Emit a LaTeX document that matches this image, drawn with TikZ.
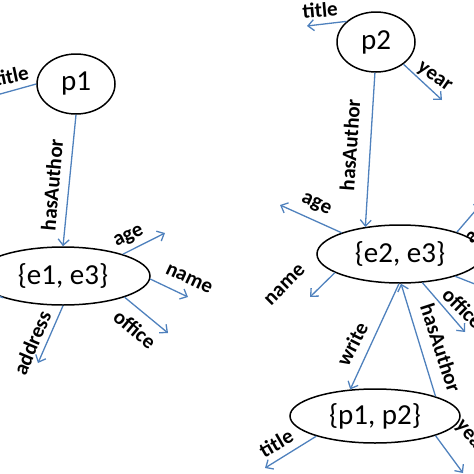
\documentclass[tikz,border=0pt]{standalone}
\usepackage{fontspec}
\setmainfont{Carlito}
\usetikzlibrary{arrows.meta,shapes.geometric}
\definecolor{arrowblue}{RGB}{79,129,189}
\begin{document}
\begin{tikzpicture}[x=1pt,y=-1pt,
  ell/.style={draw=black, line width=1.5pt, ellipse, inner sep=0pt, font=\fontsize{29}{31}\selectfont},
  rel/.style={draw=arrowblue, line width=1.3pt, -{Straight Barb[length=6pt,width=11pt,line width=1.3pt]}},
  lab/.style={font=\bfseries\fontsize{21}{23}\selectfont, inner sep=0pt}]
\useasboundingbox (0,0) rectangle (474,474);
\clip (0,0) rectangle (474,474);
% nodes
\node[ell, minimum width=78pt, minimum height=60pt] (p1) at (76,84) {p1};
\node[ell, minimum width=174pt, minimum height=58pt] (e13) at (63,276) {\{e1, e3\}};
\node[ell, minimum width=78pt, minimum height=60pt] (p2) at (376,42) {p2};
\node[ell, minimum width=166pt, minimum height=58pt] (e23) at (400,254) {\{e2, e3\}};
\node[ell, minimum width=170pt, minimum height=54pt] (p12) at (375,416) {\{p1, p2\}};
% free ends
\coordinate (t1) at (-25,101);
\coordinate (a1) at (165,233);
\coordinate (n1) at (188,297);
\coordinate (o1) at (168,333);
\coordinate (ad1) at (38,363);
\coordinate (s1) at (-40,281);
\coordinate (t2) at (307,26);
\coordinate (y2) at (442,100);
\coordinate (a2l) at (280,205);
\coordinate (n2l) at (310,297);
\coordinate (a2r) at (482,203);
\coordinate (n2r) at (495,292);
\coordinate (o2) at (465,332);
\coordinate (t3) at (265,468);
\coordinate (y3) at (463,473);
% connectors left
\draw[rel] (p1.180) -- (t1);
\draw[rel] (p1.south) -- (e13.north);
\draw[rel] (e13.20) -- (a1);
\draw[rel] (e13.-2) -- (n1);
\draw[rel] (e13.-19) -- (o1);
\draw[rel] (e13.-90) -- (ad1);
\draw[rel] (e13.200) -- (s1);
% connectors right
\draw[rel] (p2.145) -- (t2);
\draw[rel] (p2.-39) -- (y2);
\draw[rel] (p2.-92) -- (e23.142);
\draw[rel] (e23.160) -- (a2l);
\draw[rel] (e23.196) -- (n2l);
\draw[rel] (e23.21) -- (a2r);
\draw[rel] (e23.-22) -- (n2r);
\draw[rel] (e23.-52) -- (o2);
\draw[rel] (e23.-92) -- (p12.133);
\draw[rel] (p12.18) -- (e23.-88);
\draw[rel] (p12.199) -- (t3);
\draw[rel] (p12.-18) -- (y3);
% labels left
\node[lab, rotate=12] (lt1) at (11,76) {title};
\node[lab, rotate=85] (lh1) at (52,185) {hasAuthor};
\node[lab, rotate=25] (la1) at (129,237) {age};
\node[lab, rotate=-25] (ln1) at (189,279) {name};
\node[lab, rotate=-40] (lo1) at (135,329) {office};
\node[lab, rotate=67] (lad1) at (32,343) {address};
% labels right
\node[lab, rotate=5] (lt2) at (320,10) {title};
\node[lab, rotate=-35] (ly2) at (434,78) {year};
\node[lab, rotate=86] (lh2) at (350,145) {hasAuthor};
\node[lab, rotate=-25] (la2l) at (316,205) {age};
\node[lab, rotate=45] (ln2l) at (285,285) {name};
\node[lab, rotate=40] (la2r) at (481,232) {age};
\node[lab, rotate=-45] (lo2) at (463,308) {office};
\node[lab, rotate=63] (lw) at (352,344) {write};
\node[lab, rotate=-72] (lh3) at (441,348) {hasAuthor};
\node[lab, rotate=30] (lt3) at (276,443) {title};
\node[lab, rotate=-50] (ly3) at (470,438) {year};
\end{tikzpicture}
\end{document}
